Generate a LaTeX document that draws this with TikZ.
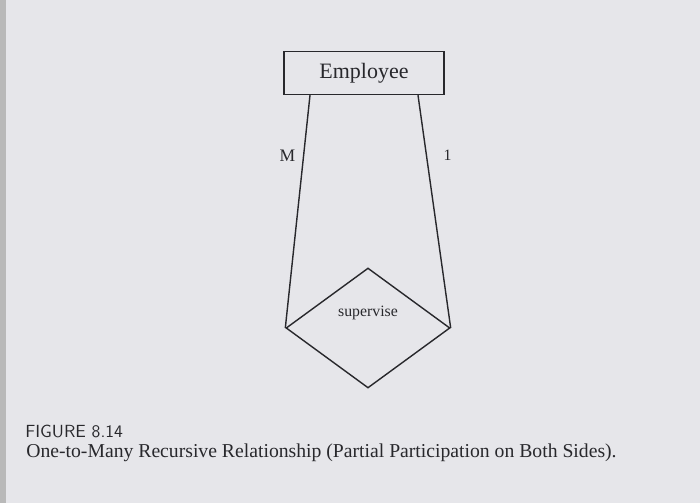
\documentclass[tikz,border=0pt]{standalone}
\usepackage{fontspec}
\setmainfont{Liberation Serif}
\usepackage{tikz}
\usetikzlibrary{positioning}
\usetikzlibrary{shapes.geometric}
\usetikzlibrary{calc}
\definecolor{page}{RGB}{230,230,234}
\definecolor{ink}{RGB}{40,40,44}

\begin{document}
\begin{tikzpicture}[ x=0.02cm, y=-0.02cm,
    entity/.style= {
        draw=ink,
        line width=0.8pt,
        minimum width=3.2cm,
        minimum height=0.86cm,
        text=ink,
        font=\fontsize{12.5}{14}\selectfont
    },
    relation/.style= {
        draw=ink,
        line width=0.8pt,
        diamond,
        minimum width=3.28cm,
        minimum height=2.4cm
    },
    link/.style= {
        draw=ink,
        line width=0.8pt
    } ]
    \fill[page] (0,0) rectangle (700,503);
    \fill[gray!55] (0,0) rectangle (6,503);
    \useasboundingbox (0,0) rectangle (700,503);
    \node[entity] (employee) at (364,73) {Employee};
    \node[relation] (supervise) at (368,328) {};
    \node[text=ink, font=\fontsize{9}{10}\selectfont] (supervise label) at (368,313) {supervise};
    \draw[link] ($(employee.south)+(-54,0)$) -- (supervise.west)
        node[pos=.26, left=1pt, text=ink] {M};
    \draw[link] ($(employee.south)+(54,0)$) -- (supervise.east)
        node[pos=.26, right=6pt, text=ink, font=\small] {1};
    \node[anchor=base west, text=ink, inner sep=0pt, font=\sffamily\fontsize{10}{12}\selectfont] (fig) at (25,437) {FIGURE 8.14};
    \node[anchor=base west, text=ink, inner sep=0pt, font=\fontsize{11.2}{13}\selectfont] (caption) at (26,457)
        {One-to-Many Recursive Relationship (Partial Participation on Both Sides).};
\end{tikzpicture}
\end{document}
